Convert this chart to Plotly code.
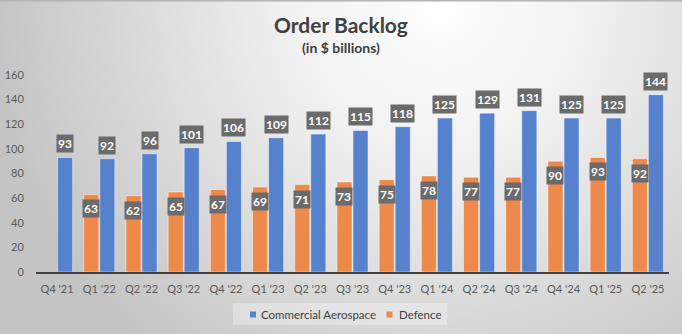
import base64
import plotly.graph_objects as go

quarters = ["Q4 '21", "Q1 '22", "Q2 '22", "Q3 '22", "Q4 '22", "Q1 '23", "Q2 '23", "Q3 '23",
            "Q4 '23", "Q1 '24", "Q2 '24", "Q3 '24", "Q4 '24", "Q1 '25", "Q2 '25"]
commercial = [93, 92, 96, 101, 106, 109, 112, 115, 118, 125, 129, 131, 125, 125, 144]
defence = [None, 63, 62, 65, 67, 69, 71, 73, 75, 78, 77, 77, 90, 93, 92]
y_ticks = [0, 20, 40, 60, 80, 100, 120, 140, 160]
series_names = ["Commercial Aerospace", "Defence"]

W, H = 682, 334
ML, MR, MT, MB = 36, 13, 75, 62
PW, PH = W - ML - MR, H - MT - MB


def px_x(px):
    return (px - ML) / PW


def px_y(py):
    return (H - MB - py) / PH


BLUE = "#5581CD"
ORANGE = "#ED894B"
LABEL_BG = "#6B6B6B"
FONT = "Lato, 'Open Sans', sans-serif"

svg = f'''<svg xmlns="http://www.w3.org/2000/svg" width="{W}" height="{H}" viewBox="0 0 {W} {H}">
<defs><radialGradient id="g" gradientUnits="userSpaceOnUse" cx="440" cy="5" r="450">
<stop offset="0" stop-color="#ffffff"/><stop offset="0.35" stop-color="#f0f0f0"/><stop offset="1" stop-color="#c4c4c4"/>
</radialGradient></defs>
<rect width="{W}" height="{H}" fill="url(#g)"/>
<rect x="0" y="0" width="{W}" height="1.5" fill="#b4b4b4"/>
<rect x="233" y="303" width="214" height="22" fill="#ffffff" fill-opacity="0.3"/>
</svg>'''
bg_uri = "data:image/svg+xml;base64," + base64.b64encode(svg.encode()).decode()

bar_line = dict(width=0.8, color="rgba(255,255,255,0.6)")
fig = go.Figure()
fig.add_trace(go.Bar(x=quarters, y=defence, name=series_names[1], marker=dict(color=ORANGE, line=bar_line)))
fig.add_trace(go.Bar(x=quarters, y=commercial, name=series_names[0], marker=dict(color=BLUE, line=bar_line)))

annotations = []
off = 0.19
for i, v in enumerate(commercial):
    annotations.append(dict(x=i + off, y=v, xref="x", yref="y", text=f"<b>{v}</b>", showarrow=False,
                            yanchor="bottom", yshift=4, bgcolor=LABEL_BG, borderpad=1,
                            font=dict(family=FONT, size=12, color="white")))
for i, v in enumerate(defence):
    if v is None:
        continue
    annotations.append(dict(x=i - off, y=v, xref="x", yref="y", text=f"<b>{v}</b>", showarrow=False,
                            yanchor="top", yshift=-5, bgcolor=LABEL_BG, borderpad=1,
                            font=dict(family=FONT, size=12, color="white")))

annotations.append(dict(x=px_x(340.5), y=px_y(25), xref="paper", yref="paper",
                        text="<b>Order Backlog</b>", showarrow=False, yanchor="middle", xanchor="center",
                        font=dict(family=FONT, size=21, color="#404040")))
annotations.append(dict(x=px_x(340.5), y=px_y(47.5), xref="paper", yref="paper",
                        text="<b>(in $ billions)</b>", showarrow=False, yanchor="middle", xanchor="center",
                        font=dict(family=FONT, size=14, color="#404040")))

# custom legend (small square swatches like the reference)
shapes = []
legend_items = [(series_names[0], BLUE, 250, 259), (series_names[1], ORANGE, 386.5, 396.5)]
for name, col, sx, tx in legend_items:
    shapes.append(dict(type="rect", xref="paper", yref="paper", x0=px_x(sx), x1=px_x(sx + 6),
                       y0=px_y(317.5), y1=px_y(311.5), fillcolor=col, line=dict(width=0)))
    annotations.append(dict(x=px_x(tx), y=px_y(314), xref="paper", yref="paper", text=name,
                            showarrow=False, xanchor="left", yanchor="middle",
                            font=dict(family=FONT, size=11.5, color="#404040")))

fig.update_layout(
    width=W, height=H,
    margin=dict(l=ML, r=MR, t=MT, b=MB, pad=0, autoexpand=False),
    paper_bgcolor="white", plot_bgcolor="rgba(0,0,0,0)",
    barmode="group", bargap=0.24, bargroupgap=0.06,
    font=dict(family=FONT, size=11, color="#595959"),
    showlegend=False,
    annotations=annotations,
    shapes=shapes,
    images=[dict(source=bg_uri, xref="paper", yref="paper", x=-ML / PW, y=1 + MT / PH,
                 sizex=W / PW, sizey=H / PH, sizing="stretch", xanchor="left", yanchor="top", layer="below")],
)
fig.update_xaxes(showline=True, linecolor="#404040", linewidth=2, showgrid=False, ticks="outside",
                 ticklen=6, tickcolor="rgba(0,0,0,0)", tickfont=dict(size=11, color="#595959"))
fig.update_yaxes(range=[0, 160], tickvals=y_ticks, showgrid=False, zeroline=False, showline=False,
                 ticks="outside", ticklen=9, tickcolor="rgba(0,0,0,0)", tickfont=dict(size=11, color="#595959"))

fig.write_html("out.html")
